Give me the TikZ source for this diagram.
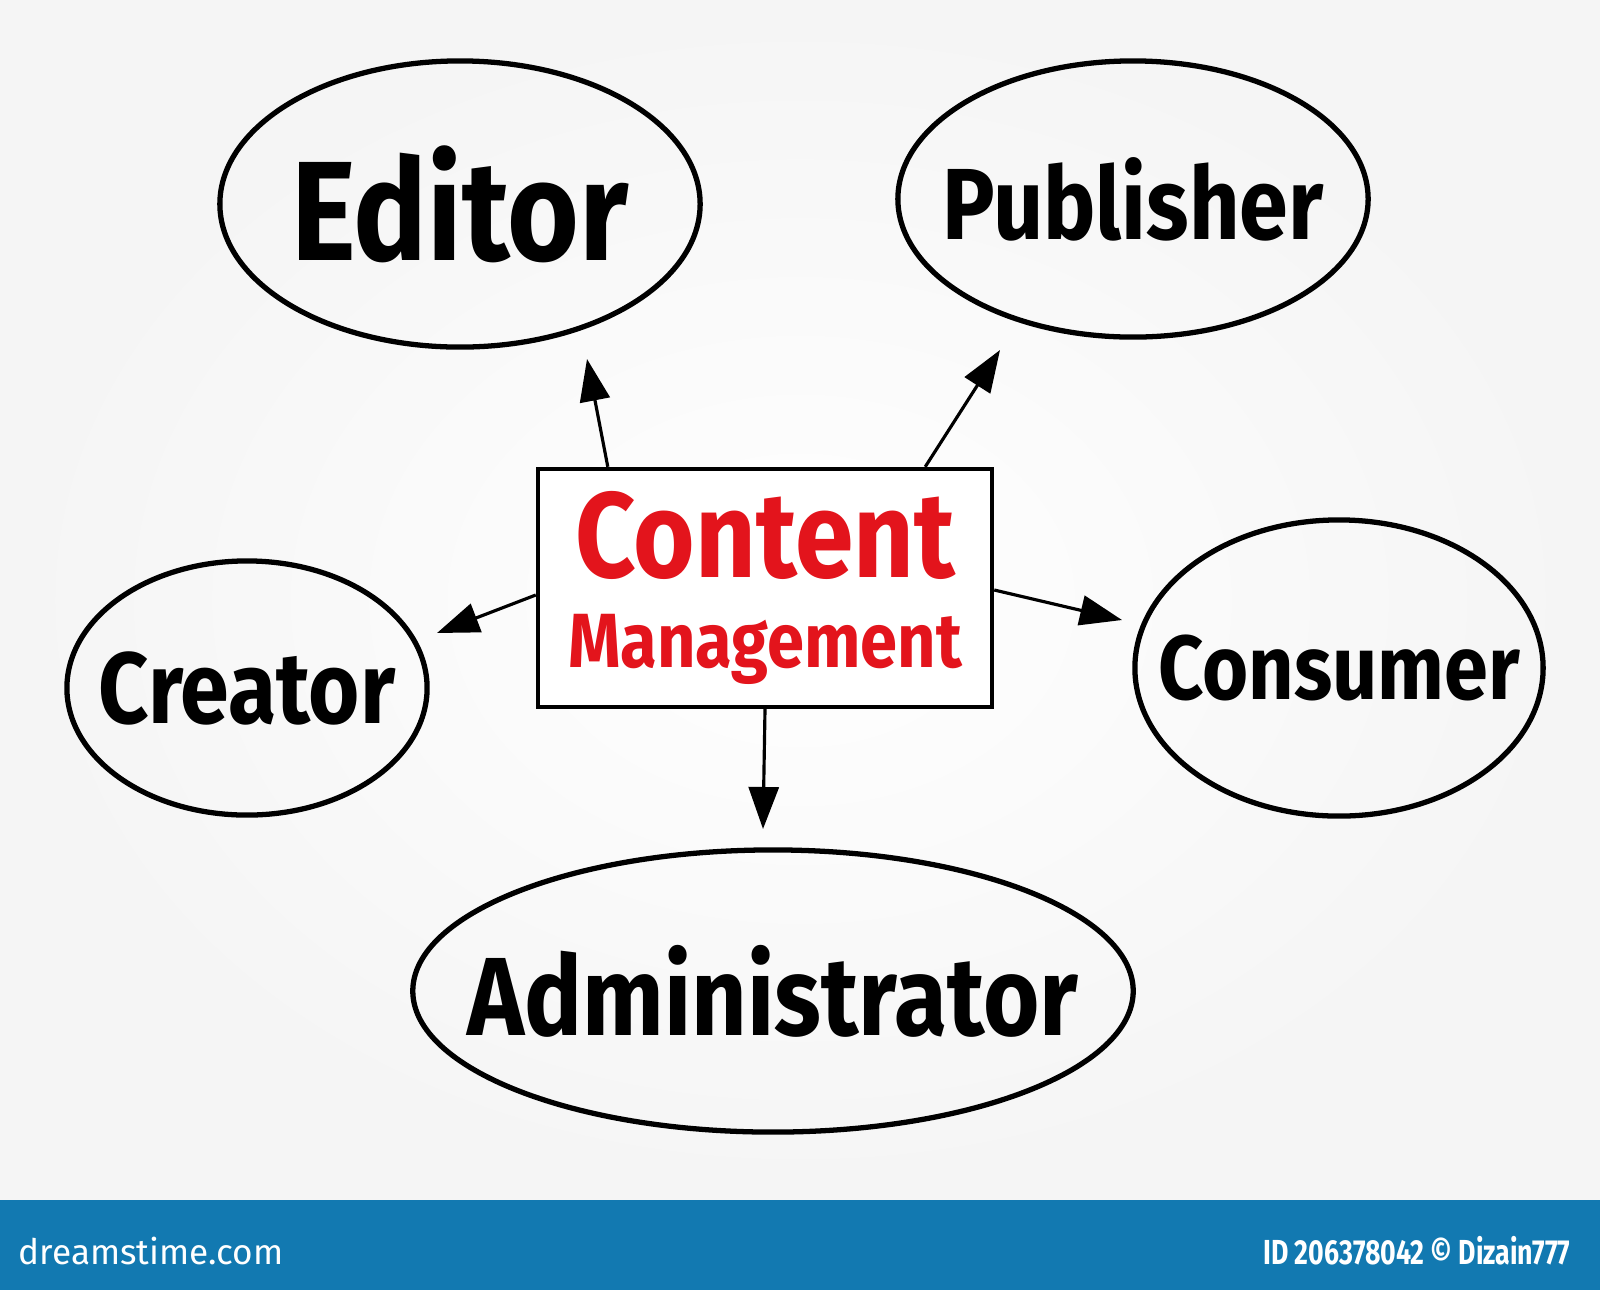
\documentclass[tikz,border=0pt]{standalone}
\usepackage{fontspec}
\usepackage{graphicx}
\setmainfont{Fira Sans}
\usetikzlibrary{shapes.geometric,arrows.meta}
\definecolor{cmred}{HTML}{E3141C}
\definecolor{barblue}{HTML}{1279B1}
\newcommand{\tall}[1]{\scalebox{1}[1.15]{#1}}
\begin{document}
\begin{tikzpicture}[x=0.01cm,y=-0.01cm,
  bubble/.style={draw,ellipse,line width=1.5pt,inner sep=-0.6cm},
  arr/.style={line width=0.9pt,-{Triangle[length=0.42cm,width=0.3cm]}}]
\useasboundingbox (0,0) rectangle (1600,1290);
\shade[inner color=white,outer color=black!4] (0,0) rectangle (1600,1200);
\fill[barblue] (0,1200) rectangle (1600,1290);
% the five roles
\node[bubble,minimum width=4.8cm,minimum height=2.86cm,font=\bfseries\fontsize{35}{40}\selectfont] (ed) at (460,204) {\tall{Editor}};
\node[bubble,minimum width=4.7cm,minimum height=2.76cm,font=\bfseries\fontsize{25}{28}\selectfont] (pub) at (1133,199) {\tall{Publisher}};
\node[bubble,minimum width=3.6cm,minimum height=2.54cm,font=\bfseries\fontsize{25}{28}\selectfont] (cr) at (247,688) {\tall{Creator}};
\node[bubble,minimum width=4.08cm,minimum height=2.96cm,font=\bfseries\fontsize{22.5}{26}\selectfont] (con) at (1339,668) {\tall{Consumer}};
\node[bubble,minimum width=7.2cm,minimum height=2.82cm,font=\bfseries\fontsize{27.5}{30}\selectfont] (adm) at (773,991) {\tall{Administrator}};
% centre box
\node[draw,line width=1.2pt,fill=white,minimum width=4.54cm,minimum height=2.38cm,align=center,text=cmred] (cm) at (765,588)
  {{\bfseries\fontsize{30}{32}\selectfont\tall{Content}}\\[9pt]{\bfseries\fontsize{19}{21}\selectfont\tall{Management}}};
% arrows out of the box
\coordinate (tE) at (587,359);
\coordinate (tP) at (1000,350);
\coordinate (tC) at (437,633);
\coordinate (tN) at (1122,620);
\coordinate (tA) at (763,829);
\draw[arr] ([xshift=0.72cm]cm.north west) -- (tE);
\draw[arr] ([xshift=-0.69cm]cm.north east) -- (tP);
\draw[arr] ([yshift=-0.07cm]cm.west) -- (tC);
\draw[arr] ([yshift=-0.02cm]cm.east) -- (tN);
\draw[arr] (cm.south) -- (tA);
% footer
\node[anchor=west,inner sep=0pt,text=white,font=\fontsize{10}{12}\selectfont] (site) at (18,1251) {dreamstime.com};
\node[anchor=east,inner sep=0pt,text=white,font=\bfseries\fontsize{7.6}{9}\selectfont] (id) at (1571,1251) {\scalebox{1}[1.3]{ID 206378042 © Dizain777}};
\end{tikzpicture}
\end{document}
